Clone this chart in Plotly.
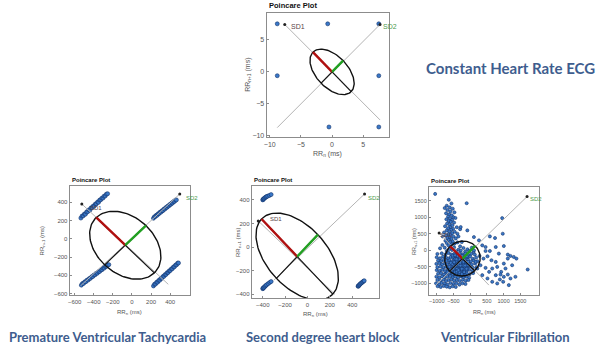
import math
import plotly.graph_objects as go

# ---------------- data ----------------
# Constant heart rate ECG
top_x = [-8.8, -0.7, 7.5, -8.8, 7.5, -0.5, 7.5]
top_y = [7.5, 7.5, 7.5, -0.6, -0.6, -8.6, -8.6]

# Premature ventricular tachycardia (four bands)
pvt_tl_x = [-535,-522,-510,-498,-487,-475,-463,-450,-440,-428,-417,-405,-395,-383,-372,-360,-350,-338,-327,-315,-303,-292,-280,-268,-255]
pvt_tl_y = [228,250,252,272,270,295,298,318,315,340,342,360,358,382,384,404,400,425,428,446,447,468,470,490,495]
pvt_tr_x = [225,235,245,255,265,275,285,295,305,315,325,335,345,355,365,375,385,395,405,415,425,435,445,455,465]
pvt_tr_y = [226,242,244,259,260,276,278,293,294,309,310,326,327,343,344,359,360,376,377,392,393,409,410,425,427]
pvt_bl_x = [-530,-518,-506,-494,-482,-470,-458,-446,-434,-422,-410,-398,-386,-374,-362,-350,-338,-326,-314,-302,-290,-278,-266,-254,-242]
pvt_bl_y = [-508,-490,-489,-472,-470,-453,-452,-435,-433,-416,-414,-397,-395,-378,-377,-360,-358,-341,-339,-322,-321,-304,-302,-286,-283]
pvt_br_x = [225,236,247,258,269,280,291,302,313,324,335,346,357,368,379,390,401,412,423,434,445,456,467,478,487]
pvt_br_y = [-517,-498,-496,-477,-475,-456,-454,-435,-433,-414,-411,-393,-390,-372,-369,-351,-348,-330,-327,-309,-306,-288,-285,-267,-265]

# Second degree heart block
shb_x = [-400,-396,-393,-387,-380,-372,-365,-355,-340,-325,
         -400,-396,-393,-387,-380,-373,-365,-352,-338,-325,
         452,455,458,464,470,476,484,492,500,507]
shb_y = [400,404,408,412,418,424,428,432,438,445,
         -352,-349,-345,-340,-333,-326,-320,-310,-300,-292,
         -332,-330,-326,-320,-314,-308,-302,-296,-290,-285]

# Ventricular fibrillation
vf_points = [
    # vertical stream
    (-640,1530),(-560,1420),(-700,1350),(-610,1300),(-520,1260),(-680,1220),(-590,1180),(-470,1150),
    (-720,1120),(-630,1090),(-550,1060),(-660,1020),(-500,1000),(-600,970),(-710,940),(-540,920),
    (-640,890),(-580,860),(-480,840),(-690,810),(-620,780),(-530,760),(-750,730),(-600,700),
    (-660,670),(-510,650),(-570,620),(-700,600),(-620,570),(-460,560),(-780,540),(-540,520),
    (-650,490),(-590,460),(-720,440),(-500,420),(-610,400),(-680,370),(-430,360),(-560,340),
    (-640,310),(-740,290),(-520,270),(-600,250),(-380,240),(-700,220),(-470,200),(-560,180),
    (-830,160),(-650,150),(-350,420),(-300,640),(-820,420),(-440,980),(-760,1280),(-400,700),
    (-250,250),(-300,120),
    # dense cluster
    (-900,60),(-760,80),(-620,40),(-480,90),(-350,20),(-200,70),(-80,30),(50,80),(-700,-20),(-540,10),
    (-420,-30),(-280,-10),(-150,-40),(-30,-20),(100,-50),
    (-980,-110),(-850,-90),(-730,-120),(-640,-80),(-560,-130),(-470,-100),(-390,-140),(-310,-90),
    (-230,-120),(-140,-100),(-60,-150),(30,-110),(140,-130),
    (-1000,-210),(-900,-240),(-810,-190),(-720,-220),(-650,-250),(-580,-200),(-510,-230),(-440,-190),
    (-370,-240),(-300,-210),(-220,-250),(-150,-200),(-80,-230),(0,-190),(80,-260),(180,-220),
    (-960,-310),(-870,-330),(-790,-290),(-700,-320),(-620,-300),(-560,-340),(-480,-290),(-420,-330),
    (-350,-310),(-280,-350),(-210,-300),(-140,-330),(-60,-290),(20,-340),(110,-310),(220,-330),
    (-1010,-410),(-920,-390),(-840,-430),(-760,-400),(-690,-420),(-610,-380),(-540,-430),(-470,-400),
    (-400,-420),(-330,-380),(-260,-430),(-190,-400),(-120,-420),(-40,-390),(50,-430),(150,-400),
    (-980,-510),(-890,-490),(-800,-530),(-720,-500),(-650,-520),(-580,-480),(-510,-530),(-440,-500),
    (-370,-520),(-300,-490),(-230,-530),(-160,-500),(-90,-520),(-10,-480),(80,-530),(190,-510),
    (-1000,-600),(-910,-620),(-830,-590),(-750,-630),(-670,-600),(-600,-580),(-530,-630),(-460,-600),
    (-390,-620),(-320,-580),(-250,-630),(-170,-600),(-100,-620),(-20,-590),(70,-630),
    (-960,-710),(-870,-690),(-780,-730),(-700,-700),(-620,-720),(-550,-690),(-480,-730),(-400,-700),
    (-330,-720),(-250,-690),(-180,-730),(-100,-700),(-10,-720),(90,-690),
    (-1010,-800),(-920,-820),(-840,-790),(-760,-830),(-680,-800),(-600,-780),(-520,-820),(-440,-800),
    (-360,-830),(-280,-790),(-200,-820),(-110,-800),(-30,-830),
    (-980,-900),(-890,-920),(-800,-890),(-720,-930),(-640,-900),(-560,-880),(-480,-920),(-400,-900),
    (-310,-930),(-220,-890),(-130,-920),(-50,-900),
    (-1020,-1000),(-930,-1030),(-850,-990),(-760,-1010),(-680,-1040),(-590,-990),(-500,-1020),
    (-410,-1000),(-320,-1040),(-230,-1000),(-140,-1020),
    (-970,-1090),(-880,-1110),(-790,-1080),(-700,-1100),(-610,-1120),(-520,-1090),(-430,-1110),
    (-520,-160),(-450,-260),(-380,-170),(-310,-280),(-240,-170),(-170,-290),(-100,-180),(-480,-360),
    (-410,-270),(-340,-450),(-270,-360),(-200,-460),(-130,-350),(-60,-450),(-500,-560),(-430,-460),
    (-360,-560),(-290,-460),(-220,-560),(-150,-460),(-80,-560),(-460,-660),(-390,-560),(-320,-660),
    (-250,-560),(-180,-660),(-110,-560),(-540,-420),(-400,-640),(-300,-380),(-200,-350),(-450,-150),
    (-350,-600),(-250,-720),(-580,-380),(-620,-500),(-680,-660),(-520,-720),(-150,-750),(-60,-350),
    # right scatter and outliers
    (461,-20),(590,-20),(280,-171),(399,-251),(518,-181),(637,-301),(766,-351),(308,-452),(461,-532),
    (660,-552),(809,-502),(928,-652),(1057,-552),(1126,-251),(1206,-171),(1305,-201),(1384,-251),
    (1126,-130),(908,-733),(1007,-803),(889,-883),(988,-954),(1126,-733),(1206,-853),(1354,-803),
    (1721,-582),(766,-753),(567,-652),(113,0),(163,-351),(213,-552),(362,-753),(518,-853),(660,-954),
    (362,150),(766,100),(1007,130),(858,-100),(1007,-402),(1256,-452),(1156,-1054),(809,-1004),
    (461,100),(263,301),(113,401),(590,422),(744,372),(975,502),(958,975),
    (-1047,1708),(-104,1427),(-283,704),(-84,603),(-382,502),
]
vf_x = [p[0] for p in vf_points]
vf_y = [p[1] for p in vf_points]

# ellipse parameters: centre, SD1, SD2
top_ell = (0.0, 0.0, 4.35, 2.5)
pvt_ell = (-70, -70, 430, 305)
shb_ell = (-92, -80, 450, 262)
vf_ell = (-230, -250, 520, 540)

# reference lines (SD1 direction and identity direction)
top_sd1_line = ([-7.6, 7.7], [7.4, -7.5]); top_id_line = ([-8.8, 7.7], [-8.7, 7.4])
pvt_sd1_line = ([-525, 380], [382, -499]); pvt_id_line = ([-536, 500], [-514, 492])
shb_sd1_line = ([-440, 245], [222, -400]); shb_id_line = ([-300, 510], [-280, 450])
vf_sd1_line = ([-928, 560], [524, -1054]); vf_id_line = ([-1028, 1702], [-1054, 1627])

# label positions (SD1, SD2)
top_lbl = ((-6.9, 7.1), (7.8, 7.1))
pvt_lbl = ((-465, 336), (543, 446))
shb_lbl = ((-349, 240), (520, 414))
vf_lbl = ((-976, 452), (1732, 1557))

captions = ["Constant Heart Rate ECG", "Premature Ventricular Tachycardia",
            "Second degree heart block", "Ventricular Fibrillation"]

# ---------------- figure ----------------
W, H = 600, 359
fig = go.Figure()
SANS = "Liberation Sans"
PT_FILL = "#3a78c8"
PT_EDGE = "#12326a"


def px_x(p):
    return p / W


def px_y(p):
    return 1 - p / H


def add_panel(n, box, xr, yr, ticks_x, ticks_y, pts, ell, sd1_line, id_line, lbl,
              tfs, lfs, title_fs, msize, xlab_y, ylab_x):
    xa = "x" if n == 1 else f"x{n}"
    ya = "y" if n == 1 else f"y{n}"
    x0, y0, x1, y1 = box
    axstyle = dict(showline=True, mirror=True, linecolor="#8c8c8c", linewidth=1,
                   ticks="inside", ticklen=2, tickcolor="#8c8c8c", showgrid=False,
                   zeroline=False, tickangle=0,
                   tickfont=dict(size=tfs, color="#555555", family=SANS))
    fig.layout[("xaxis" if n == 1 else f"xaxis{n}")] = dict(
        domain=[px_x(x0), px_x(x1)], range=xr, tickvals=ticks_x, anchor=ya, **axstyle)
    fig.layout[("yaxis" if n == 1 else f"yaxis{n}")] = dict(
        domain=[px_y(y1), px_y(y0)], range=yr, tickvals=ticks_y, anchor=xa, **axstyle)

    for (xs, ys) in pts:
        fig.add_trace(go.Scatter(x=xs, y=ys, mode="markers", xaxis=xa, yaxis=ya,
                                 marker=dict(size=msize, color=PT_FILL,
                                             line=dict(color=PT_EDGE, width=0.6)),
                                 showlegend=False, hoverinfo="skip"))
    for line in (sd1_line, id_line):
        fig.add_trace(go.Scatter(x=line[0], y=line[1], mode="lines", xaxis=xa, yaxis=ya,
                                 line=dict(color="#b4b4b4", width=1),
                                 showlegend=False, hoverinfo="skip"))
    # end markers
    fig.add_trace(go.Scatter(x=[sd1_line[0][0], id_line[0][1]], y=[sd1_line[1][0], id_line[1][1]],
                             mode="markers", xaxis=xa, yaxis=ya,
                             marker=dict(size=3, color="#222222"),
                             showlegend=False, hoverinfo="skip"))
    cx, cy, a, b = ell
    r2 = math.sqrt(0.5)
    u1 = (-r2, r2)
    u2 = (r2, r2)
    ts = [2 * math.pi * i / 120 for i in range(121)]
    ex = [cx + a * math.cos(t) * u1[0] + b * math.sin(t) * u2[0] for t in ts]
    ey = [cy + a * math.cos(t) * u1[1] + b * math.sin(t) * u2[1] for t in ts]
    fig.add_trace(go.Scatter(x=ex, y=ey, mode="lines", xaxis=xa, yaxis=ya,
                             line=dict(color="#111111", width=1.4),
                             showlegend=False, hoverinfo="skip"))
    # ellipse axes
    fig.add_trace(go.Scatter(x=[cx - a * u1[0], cx + a * u1[0], None, cx - b * u2[0], cx + b * u2[0]],
                             y=[cy - a * u1[1], cy + a * u1[1], None, cy - b * u2[1], cy + b * u2[1]],
                             mode="lines", xaxis=xa, yaxis=ya,
                             line=dict(color="#111111", width=1.2),
                             showlegend=False, hoverinfo="skip"))
    fig.add_trace(go.Scatter(x=[cx, cx + a * u1[0]], y=[cy, cy + a * u1[1]], mode="lines",
                             xaxis=xa, yaxis=ya, line=dict(color="#b01010", width=2.4),
                             showlegend=False, hoverinfo="skip"))
    fig.add_trace(go.Scatter(x=[cx, cx + b * u2[0]], y=[cy, cy + b * u2[1]], mode="lines",
                             xaxis=xa, yaxis=ya, line=dict(color="#22a022", width=2.4),
                             showlegend=False, hoverinfo="skip"))
    # SD labels
    fig.add_annotation(x=lbl[0][0], y=lbl[0][1], xref=xa, yref=ya, text="SD1", showarrow=False,
                       xanchor="left", yanchor="middle",
                       font=dict(size=lfs, color="#5a4448", family=SANS))
    fig.add_annotation(x=lbl[1][0], y=lbl[1][1], xref=xa, yref=ya, text="SD2", showarrow=False,
                       xanchor="left", yanchor="middle",
                       font=dict(size=lfs, color="#4c9a4c", family=SANS))
    # title
    fig.add_annotation(x=px_x(x0), y=px_y(y0 - 1), xref="paper", yref="paper",
                       text="Poincare Plot", showarrow=False, xanchor="left",
                       yanchor="bottom",
                       font=dict(size=title_fs, color="#111111", family=SANS, weight="bold"))
    # axis labels
    fig.add_annotation(x=px_x((x0 + x1) / 2), y=px_y(xlab_y), xref="paper", yref="paper",
                       text="RR<sub>n</sub> (ms)", showarrow=False, xanchor="center",
                       yanchor="middle", font=dict(size=tfs, color="#555555", family=SANS))
    fig.add_annotation(x=px_x(ylab_x), y=px_y((y0 + y1) / 2), xref="paper", yref="paper",
                       text="RR<sub>n+1</sub> (ms)", showarrow=False, textangle=-90,
                       xanchor="center", yanchor="middle",
                       font=dict(size=tfs, color="#555555", family=SANS))


add_panel(1, (265, 13, 388, 138), [-10.5, 9.15], [-10.2, 9.2], [-10, -5, 0, 5], [-10, -5, 0, 5],
          [(top_x, top_y)], top_ell, top_sd1_line, top_id_line, top_lbl,
          7, 7, 7.5, 4, 155, 246)
add_panel(2, (67, 187, 188, 297), [-652, 608], [-620, 580],
          [-600, -400, -200, 0, 200, 400], [-600, -400, -200, 0, 200, 400],
          [(pvt_tl_x, pvt_tl_y), (pvt_tr_x, pvt_tr_y), (pvt_bl_x, pvt_bl_y), (pvt_br_x, pvt_br_y)],
          pvt_ell, pvt_sd1_line, pvt_id_line, pvt_lbl, 6, 6, 6, 4, 314, 40)
add_panel(3, (250, 187, 378, 300), [-498, 640], [-434, 518],
          [-400, -200, 0, 200, 400], [-400, -200, 0, 200, 400],
          [(shb_x, shb_y)], shb_ell, shb_sd1_line, shb_id_line, shb_lbl, 6, 6, 6, 4, 316, 236)
add_panel(4, (428, 188, 539, 297), [-1235, 2068], [-1364, 1919],
          [-1000, -500, 0, 500, 1000, 1500], [-1000, -500, 0, 500, 1000, 1500],
          [(vf_x, vf_y)], vf_ell, vf_sd1_line, vf_id_line, vf_lbl, 5.5, 6, 6, 3.1, 314, 413)

CAP = "#3e5d8e"
fig.add_annotation(x=px_x(423), y=px_y(68), xref="paper", yref="paper",
                   text=captions[0], showarrow=False,
                   xanchor="left", yanchor="middle",
                   font=dict(size=15, color=CAP, family="Lato", weight="bold"))
for txt, lx in zip(captions[1:], [4, 242, 437]):
    fig.add_annotation(x=px_x(lx), y=px_y(339), xref="paper", yref="paper",
                       text=txt, showarrow=False,
                       xanchor="left", yanchor="middle",
                       font=dict(size=13, color=CAP, family="Lato", weight="bold"))

fig.update_layout(width=W, height=H, margin=dict(l=0, r=0, t=0, b=0),
                  paper_bgcolor="white", plot_bgcolor="white", showlegend=False)
fig.write_html("out.html", config={"displayModeBar": False},
               post_script="document.body.style.margin='0';document.body.style.padding='0';")
